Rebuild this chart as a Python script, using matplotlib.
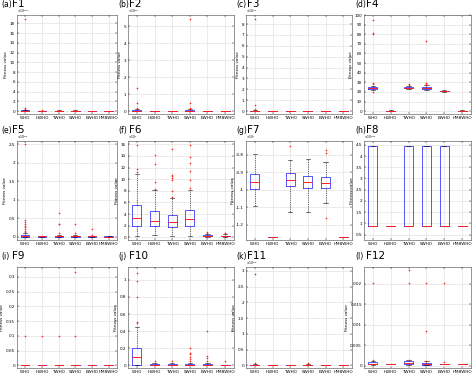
import matplotlib
matplotlib.use("Agg")
import matplotlib.pyplot as plt

methods = ["WHO", "HWHO", "TWHO", "SWHO", "EWHO", "HMBWHO"]

# ---- data per panel: medians, quartiles, whisker ends, outliers ----
F1_med = [0.05, 0.02, 0.03, 0.03, 0.02, 0.02]
F1_q1 = [0.0, 0.0, 0.0, 0.0, 0.0, 0.0]
F1_q3 = [0.12, 0.04, 0.06, 0.06, 0.04, 0.04]
F1_lo = [0.0, 0.0, 0.0, 0.0, 0.0, 0.0]
F1_hi = [0.25, 0.08, 0.12, 0.12, 0.08, 0.08]
F1_fl = [[0.4, 0.6, 18.8], [0.15], [0.2], [0.2], [], []]

F2_med = [0.03, 0.01, 0.01, 0.03, 0.01, 0.01]
F2_q1 = [0.0, 0.0, 0.0, 0.0, 0.0, 0.0]
F2_q3 = [0.06, 0.02, 0.02, 0.06, 0.02, 0.02]
F2_lo = [0.0, 0.0, 0.0, 0.0, 0.0, 0.0]
F2_hi = [0.12, 0.03, 0.03, 0.12, 0.03, 0.03]
F2_fl = [[0.15, 0.2, 0.5, 1.35], [], [], [0.15, 0.2, 0.5, 5.45], [], []]

F3_med = [0.02, 0.01, 0.01, 0.01, 0.01, 0.01]
F3_q1 = [0.0, 0.0, 0.0, 0.0, 0.0, 0.0]
F3_q3 = [0.05, 0.02, 0.02, 0.02, 0.02, 0.02]
F3_lo = [0.0, 0.0, 0.0, 0.0, 0.0, 0.0]
F3_hi = [0.1, 0.03, 0.04, 0.04, 0.03, 0.03]
F3_fl = [[0.15, 0.6, 8.5], [], [], [], [], []]

F4_med = [24.0, 0.4, 24.5, 24.0, 21.0, 0.4]
F4_q1 = [23.3, 0.3, 24.0, 23.4, 20.7, 0.3]
F4_q3 = [24.7, 0.5, 25.0, 24.8, 21.3, 0.5]
F4_lo = [21.5, 0.1, 23.0, 22.0, 20.2, 0.1]
F4_hi = [26.5, 0.8, 26.5, 26.8, 21.8, 0.8]
F4_fl = [[20.0, 28.0, 29.0, 80.0, 81.5, 95.0], [], [27.5, 28.5], [27.5, 28.5, 29.5, 72.5], [], []]

F5_med = [0.02, 0.005, 0.01, 0.01, 0.01, 0.003]
F5_q1 = [0.0, 0.0, 0.0, 0.0, 0.0, 0.0]
F5_q3 = [0.05, 0.01, 0.02, 0.02, 0.02, 0.006]
F5_lo = [0.0, 0.0, 0.0, 0.0, 0.0, 0.0]
F5_hi = [0.1, 0.02, 0.04, 0.04, 0.03, 0.01]
F5_fl = [[0.12, 0.15, 0.2, 0.25, 0.3, 0.35, 0.4, 0.45, 2.5], [0.03],
         [0.05, 0.1, 0.33, 0.35, 0.65], [0.05, 0.1, 0.35], [0.05, 0.2], []]

F6_med = [3.4, 2.8, 2.6, 3.1, 0.25, 0.25]
F6_q1 = [2.0, 1.9, 1.7, 2.0, 0.18, 0.18]
F6_q3 = [5.6, 4.5, 3.8, 4.7, 0.35, 0.32]
F6_lo = [0.3, 0.4, 0.2, 0.2, 0.05, 0.05]
F6_hi = [10.9, 8.1, 6.7, 8.2, 0.6, 0.5]
F6_fl = [[11.3, 11.8, 15.8], [8.3, 9.5, 12.6, 14.2], [7.0, 8.0, 9.8, 10.2, 10.5, 10.8, 15.1],
         [8.5, 9.8, 11.4, 12.8, 13.8, 15.9], [0.8, 1.0], [0.7, 0.8]]

F7_med = [-0.954, -1.272, -0.946, -0.957, -0.963, -1.272]
F7_q1 = [-0.994, -1.272, -0.981, -0.990, -0.990, -1.272]
F7_q3 = [-0.913, -1.272, -0.902, -0.922, -0.930, -1.272]
F7_lo = [-1.093, -1.272, -1.126, -1.126, -1.074, -1.272]
F7_hi = [-0.796, -1.272, -0.833, -0.824, -0.839, -1.272]
F7_fl = [[], [], [-0.75], [], [-0.774, -0.791, -1.163], []]

F8_med = [0.888, 0.888, 0.888, 0.888, 0.888, 0.888]
F8_q1 = [0.888, 0.888, 0.888, 0.888, 0.888, 0.888]
F8_q3 = [4.44, 0.888, 4.44, 4.44, 4.44, 0.888]
F8_lo = [0.888, 0.888, 0.888, 0.888, 0.888, 0.888]
F8_hi = [4.44, 0.888, 4.44, 4.44, 4.44, 0.888]
F8_fl = [[], [], [], [], [], []]

F9_med = [0.0, 0.0, 0.0, 0.0, 0.0, 0.0]
F9_q1 = [0.0, 0.0, 0.0, 0.0, 0.0, 0.0]
F9_q3 = [0.0, 0.0, 0.0, 0.0, 0.0, 0.0]
F9_lo = [0.0, 0.0, 0.0, 0.0, 0.0, 0.0]
F9_hi = [0.0, 0.0, 0.0, 0.0, 0.0, 0.0]
F9_fl = [[0.1], [0.1], [0.1], [0.1, 0.315], [], []]

F10_med = [0.1, 0.005, 0.005, 0.005, 0.005, 0.0]
F10_q1 = [0.01, 0.0, 0.0, 0.0, 0.0, 0.0]
F10_q3 = [0.2, 0.015, 0.015, 0.015, 0.015, 0.0]
F10_lo = [0.0, 0.0, 0.0, 0.0, 0.0, 0.0]
F10_hi = [0.45, 0.03, 0.03, 0.03, 0.03, 0.0]
F10_fl = [[0.5, 0.51, 0.8, 0.99, 1.08], [0.05], [0.05], [0.05, 0.08, 0.1, 0.13, 0.15, 0.2],
          [0.05, 0.09, 0.11, 0.4], [0.05]]

F11_med = [0.01, 0.005, 0.005, 0.01, 0.005, 0.005]
F11_q1 = [0.0, 0.0, 0.0, 0.0, 0.0, 0.0]
F11_q3 = [0.03, 0.01, 0.01, 0.02, 0.01, 0.01]
F11_lo = [0.0, 0.0, 0.0, 0.0, 0.0, 0.0]
F11_hi = [0.06, 0.02, 0.02, 0.04, 0.02, 0.02]
F11_fl = [[0.08, 2.89], [], [], [0.07], [], []]

F12_med = [0.0005, 0.0003, 0.0006, 0.0004, 0.0003, 0.0003]
F12_q1 = [0.0003, 0.0003, 0.0003, 0.0002, 0.0003, 0.0003]
F12_q3 = [0.0009, 0.0003, 0.0010, 0.0007, 0.0003, 0.0003]
F12_lo = [0.0001, 0.0003, 0.0001, 0.0001, 0.0003, 0.0003]
F12_hi = [0.0012, 0.0003, 0.0013, 0.0010, 0.0003, 0.0003]
F12_fl = [[0.0014, 0.0202], [], [0.0014, 0.0202, 0.0233], [0.0012, 0.0085, 0.0202],
          [0.0008, 0.0202], []]

# ---- panel settings ----
panel_titles = ["F1", "F2", "F3", "F4", "F5", "F6", "F7", "F8", "F9", "F10", "F11", "F12"]
panel_tags = ["(a)", "(b)", "(c)", "(d)", "(e)", "(f)", "(g)", "(h)", "(i)", "(j)", "(k)", "(l)"]
panel_offsets = [r"$\times10^{-10}$", r"$\times10^{-7}$", r"$\times10^{-3}$", "",
                 r"$\times10^{-3}$", r"$\times10^{4}$", r"$\times10^{4}$", r"$\times10^{-15}$",
                 "", "", r"$\times10^{-8}$", ""]
panel_ylims = [(-0.6, 19.7), (-0.17, 5.67), (-0.27, 8.84), (-3, 100),
               (-0.09, 2.59), (-0.45, 16.56), (-1.287, -0.722), (0.256, 4.67),
               (-0.009, 0.333), (-0.03, 1.15), (-0.08, 3.12), (-0.0006, 0.0241)]
panel_yticks = [list(range(0, 19, 2)), [0, 1, 2, 3, 4, 5], list(range(0, 9)), list(range(0, 101, 10)),
                [0, 0.5, 1, 1.5, 2, 2.5], list(range(0, 17, 2)), [-1.2, -1.1, -1.0, -0.9, -0.8],
                [0.5, 1, 1.5, 2, 2.5, 3, 3.5, 4, 4.5], [0, 0.05, 0.1, 0.15, 0.2, 0.25, 0.3],
                [0, 0.2, 0.4, 0.6, 0.8, 1.0], [0, 0.5, 1, 1.5, 2, 2.5, 3],
                [0, 0.005, 0.01, 0.015, 0.02]]

data = [
    (F1_med, F1_q1, F1_q3, F1_lo, F1_hi, F1_fl),
    (F2_med, F2_q1, F2_q3, F2_lo, F2_hi, F2_fl),
    (F3_med, F3_q1, F3_q3, F3_lo, F3_hi, F3_fl),
    (F4_med, F4_q1, F4_q3, F4_lo, F4_hi, F4_fl),
    (F5_med, F5_q1, F5_q3, F5_lo, F5_hi, F5_fl),
    (F6_med, F6_q1, F6_q3, F6_lo, F6_hi, F6_fl),
    (F7_med, F7_q1, F7_q3, F7_lo, F7_hi, F7_fl),
    (F8_med, F8_q1, F8_q3, F8_lo, F8_hi, F8_fl),
    (F9_med, F9_q1, F9_q3, F9_lo, F9_hi, F9_fl),
    (F10_med, F10_q1, F10_q3, F10_lo, F10_hi, F10_fl),
    (F11_med, F11_q1, F11_q3, F11_lo, F11_hi, F11_fl),
    (F12_med, F12_q1, F12_q3, F12_lo, F12_hi, F12_fl),
]

W, H = 474, 378
fig = plt.figure(figsize=(W / 100, H / 100), dpi=100)

col_left = [17, 128, 246, 364]
col_right = [117, 234, 352, 471]
row_top = [15, 141, 267]
row_bot = [114, 240, 368]

for i in range(12):
    r, c = divmod(i, 4)
    l, rr = col_left[c], col_right[c]
    t, b = row_top[r], row_bot[r]
    ax = fig.add_axes([l / W, 1 - b / H, (rr - l) / W, (b - t) / H])
    med, q1, q3, lo, hi, fl = data[i]
    stats = []
    for k in range(6):
        stats.append(dict(med=med[k], q1=q1[k], q3=q3[k], whislo=lo[k], whishi=hi[k],
                          fliers=fl[k], label=methods[k]))
    ax.bxp(stats, positions=range(1, 7), widths=0.5, showfliers=True,
           boxprops=dict(color="#3b3bff", linewidth=0.6),
           medianprops=dict(color="#ff2020", linewidth=0.7),
           whiskerprops=dict(color="black", linewidth=0.4, linestyle=(0, (2, 2))),
           capprops=dict(color="black", linewidth=0.4),
           capwidths=0.25,
           flierprops=dict(marker="+", markeredgecolor="#ff2020", markersize=2,
                           markeredgewidth=0.4, linestyle="none"))
    ax.set_xlim(0.5, 6.5)
    ax.set_ylim(*panel_ylims[i])
    ax.set_yticks(panel_yticks[i])
    ax.set_yticklabels(["%g" % v for v in panel_yticks[i]])
    ax.set_xticks(range(1, 7))
    ax.set_xticklabels(methods)
    ax.grid(True, color="#dcdcdc", linewidth=0.4)
    ax.set_axisbelow(True)
    ax.tick_params(axis="both", labelsize=3, length=1.2, width=0.3, pad=1.5,
                   direction="in", top=True, right=True)
    for s in ax.spines.values():
        s.set_linewidth(0.4)
        s.set_color("#444444")
    ax.set_ylabel("Fitness value", fontsize=3, labelpad=1)
    if panel_offsets[i]:
        ax.text(0.0, 1.0, panel_offsets[i], transform=ax.transAxes, fontsize=2.2,
                ha="left", va="bottom")
    tx = [1, 118, 236, 355][c]
    ty = [0, 126, 252][r]
    fig.text(tx / W, 1 - (ty + 7) / H, panel_tags[i], fontsize=5.5, ha="left", va="baseline")
    fig.text((tx + 11) / W, 1 - (ty + 7) / H, panel_titles[i], fontsize=7.5, ha="left", va="baseline")

fig.savefig("out.png", dpi=100)
